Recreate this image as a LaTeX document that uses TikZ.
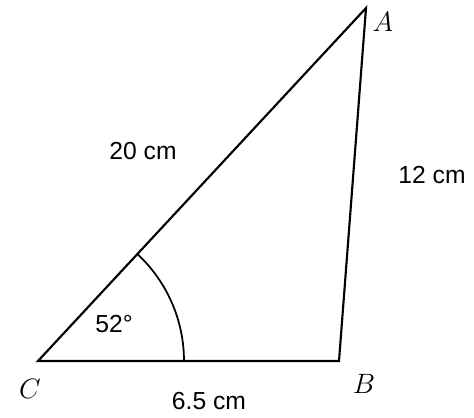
\documentclass[tikz,border=0pt]{standalone}
\usepackage{fix-cm}
\usepackage{fontspec}
\setmainfont{Liberation Sans}
\usetikzlibrary{calc}

\tikzset{
  lbl/.style={font=\fontsize{18.5}{22}\selectfont},
  vtx/.style={font=\fontsize{21}{25}\selectfont}
}

\begin{document}
\begin{tikzpicture}[x=0.75pt,y=0.75pt,yscale=-1]
\useasboundingbox (0,0) rectangle (474,417);

%Points
\coordinate (C) at (38,361);
\coordinate (B) at (339,361);
\coordinate (A) at (366,8);

%Triangle
\draw [line width=1.6pt, line join=miter] (C) -- (B) -- (A) -- cycle ;

%Angle arc
\draw [line width=1.3pt] ($(C)+(146,0)$) arc [start angle=0, end angle=-47.1, radius=146] ;

% Text Node
\node [vtx] (lA) at (383,22) {$A$};
% Text Node
\node [vtx] (lB) at (364,384) {$B$};
% Text Node
\node [vtx] (lC) at (30,389) {$C$};
% Text Node
\node [lbl] (ang) at (114,324) {52°};
% Text Node
\node [lbl] (ca) at (143,151) {20 cm};
% Text Node
\node [lbl] (ab) at (432,175) {12 cm};
% Text Node
\node [lbl] (cb) at (209,401) {6.5 cm};

\end{tikzpicture}
\end{document}
